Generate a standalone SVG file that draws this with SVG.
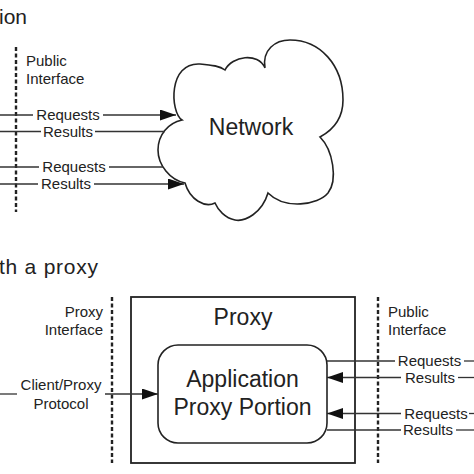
<svg xmlns="http://www.w3.org/2000/svg" width="474" height="474" viewBox="0 0 474 474">
<style>
.t{font-family:"Liberation Sans",Arial,sans-serif;fill:#222}
.s{font-size:15px}
.b{font-size:23px}
.h{font-size:21px}
.ln{stroke:#333;stroke-width:1.3;fill:none}
.dash{stroke:#222;stroke-width:2.4;stroke-dasharray:4 2.5;fill:none}
.shape{fill:#fff;stroke:#222;stroke-width:1.6}
</style>
<defs>
<marker id="ah" markerUnits="userSpaceOnUse" markerWidth="16" markerHeight="11" refX="16" refY="5.5" orient="auto">
<path d="M0,0 L16,5.5 L0,11 z" fill="#111"/>
</marker>
</defs>
<rect width="474" height="474" fill="#fff"/>

<g id="titles">
<text class="t h" x="-1" y="24">ion</text>
<text class="t h" x="-1" y="274" textLength="99">th a proxy</text>
</g>

<g id="interfaces">
<line class="dash" x1="16" y1="47" x2="16" y2="212"/>
<text class="t s" x="26" y="66">Public</text>
<text class="t s" x="26" y="84">Interface</text>
<line class="dash" x1="112" y1="297" x2="112" y2="463"/>
<text class="t s" x="103" y="317" text-anchor="end">Proxy</text>
<text class="t s" x="103" y="335" text-anchor="end">Interface</text>
<line class="dash" x1="378" y1="297" x2="378" y2="463"/>
<text class="t s" x="388" y="317">Public</text>
<text class="t s" x="388" y="335">Interface</text>
</g>

<g id="network">
<path class="shape" d="M182,120 C170,112 168,62 200,64 C212,65 220,66 225,70 C232,56 258,52 265,68 C262,50 275,40 290,40 C320,40 343,65 343,100 C343,118 333,130 320,137 C333,150 338,180 328,193 C318,205 285,210 268,193 C262,213 245,222 235,220 C225,218 218,210 215,203 C205,208 190,200 185,183 C170,180 158,165 158,150 C158,135 168,123 182,120 Z"/>
<text class="t b" x="251" y="135" text-anchor="middle">Network</text>
</g>

<g id="proxy">
<rect x="131" y="297" width="224" height="166" fill="none" stroke="#222" stroke-width="1.8"/>
<text class="t b" x="243" y="325" text-anchor="middle">Proxy</text>
</g>

<g id="app-proxy-portion">
<rect class="shape" x="158" y="345" width="169" height="98" rx="20" ry="20"/>
<text class="t b" x="242.5" y="387" text-anchor="middle">Application</text>
<text class="t b" x="242.5" y="415" text-anchor="middle">Proxy Portion</text>
</g>

<g id="connectors">
<!-- top section -->
<line class="ln" x1="0" y1="115" x2="33" y2="115"/>
<line class="ln" x1="103" y1="115" x2="176" y2="115" marker-end="url(#ah)"/>
<text class="t s" x="68" y="120" text-anchor="middle">Requests</text>

<line class="ln" x1="0" y1="131.5" x2="41" y2="131.5"/>
<line class="ln" x1="95" y1="131.5" x2="165" y2="131.5"/>
<text class="t s" x="68" y="136.5" text-anchor="middle">Results</text>

<line class="ln" x1="0" y1="167" x2="39" y2="167"/>
<line class="ln" x1="109" y1="167" x2="163" y2="167"/>
<text class="t s" x="74" y="172" text-anchor="middle">Requests</text>

<line class="ln" x1="0" y1="184" x2="38" y2="184"/>
<line class="ln" x1="94" y1="184" x2="184" y2="184" marker-end="url(#ah)"/>
<text class="t s" x="66" y="189" text-anchor="middle">Results</text>

<!-- bottom section, left -->
<line class="ln" x1="0" y1="394" x2="17" y2="394"/>
<line class="ln" x1="105" y1="394" x2="158" y2="394" marker-end="url(#ah)"/>
<text class="t s" x="61" y="389.5" text-anchor="middle">Client/Proxy</text>
<text class="t s" x="61" y="408.5" text-anchor="middle">Protocol</text>

<!-- bottom section, right -->
<line class="ln" x1="327" y1="361" x2="395" y2="361"/>
<line class="ln" x1="464" y1="361" x2="474" y2="361"/>
<text class="t s" x="429.5" y="366" text-anchor="middle">Requests</text>

<line class="ln" x1="401" y1="377.5" x2="327" y2="377.5" marker-end="url(#ah)"/>
<line class="ln" x1="458" y1="377.5" x2="474" y2="377.5"/>
<text class="t s" x="430" y="382.5" text-anchor="middle">Results</text>

<line class="ln" x1="401" y1="413.5" x2="327" y2="413.5" marker-end="url(#ah)"/>
<line class="ln" x1="469" y1="413.5" x2="474" y2="413.5"/>
<text class="t s" x="436" y="418.5" text-anchor="middle">Requests</text>

<line class="ln" x1="327" y1="430" x2="401" y2="430"/>
<line class="ln" x1="456" y1="430" x2="474" y2="430"/>
<text class="t s" x="428" y="435" text-anchor="middle">Results</text>
</g>
</svg>
